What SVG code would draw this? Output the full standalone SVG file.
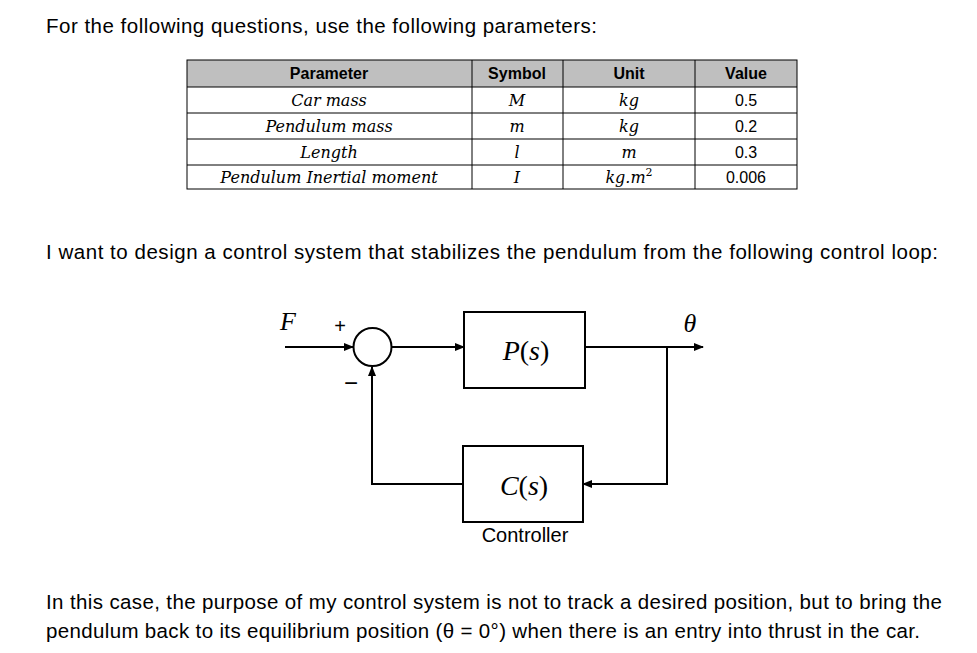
<svg xmlns="http://www.w3.org/2000/svg" width="977" height="653" viewBox="0 0 977 653">
<defs>
<style>
.t{font-family:"Liberation Sans",Arial,sans-serif;font-size:20.5px;fill:#000}
.h{font-family:"Liberation Sans",Arial,sans-serif;font-size:16px;font-weight:bold;text-anchor:middle}
.v{font-family:"Liberation Sans",Arial,sans-serif;font-size:16px;text-anchor:middle}
.m{font-family:"DejaVu Serif","Liberation Serif",serif;font-size:16px;font-style:italic;text-anchor:middle}
.b{fill:#fff;stroke:#000;stroke-width:2}
.w{fill:none;stroke:#000;stroke-width:2}
.bl{font-family:"Liberation Serif","Times New Roman",serif;font-size:28px;text-anchor:middle}
</style>
<marker id="ar" markerWidth="10" markerHeight="8" refX="9" refY="4" orient="auto" markerUnits="userSpaceOnUse"><path d="M0,0 L10,4 L0,8 z" fill="#000"/></marker>
</defs>
<rect width="977" height="653" fill="#fff"/>
<text class="t" x="46" y="33" textLength="551">For the following questions, use the following parameters:</text>
<g id="table">
<rect x="187" y="60" width="610" height="27" fill="#bfbfbf"/>
<g stroke="#000" stroke-width="1" fill="none">
<rect x="187" y="60" width="610" height="129"/>
<path d="M187 87H797M187 113H797M187 139H797M187 165H797M472 60V189M563 60V189M695 60V189"/>
</g>
<text class="h" x="329" y="79">Parameter</text><text class="h" x="517" y="79">Symbol</text><text class="h" x="629" y="79">Unit</text><text class="h" x="746" y="79">Value</text>
<text class="m" x="329" y="106">Car mass</text><text class="m" x="517" y="106">M</text><text class="m" x="629" y="106">kg</text><text class="v" x="746" y="106">0.5</text>
<text class="m" x="329" y="132">Pendulum mass</text><text class="m" x="517" y="132">m</text><text class="m" x="629" y="132">kg</text><text class="v" x="746" y="132">0.2</text>
<text class="m" x="329" y="158">Length</text><text class="m" x="517" y="158">l</text><text class="m" x="629" y="158">m</text><text class="v" x="746" y="158">0.3</text>
<text class="m" x="329" y="183">Pendulum Inertial moment</text><text class="m" x="517" y="183">I</text><text class="m" x="629" y="183">kg.m<tspan dy="-7" style="font-size:11px;font-style:normal">2</tspan></text><text class="v" x="746" y="183">0.006</text>
</g>
<text class="t" x="46" y="259" textLength="892">I want to design a control system that stabilizes the pendulum from the following control loop:</text>
<g id="connectors">
<path class="w" d="M285 347H353" marker-end="url(#ar)"/>
<path class="w" d="M392 347H464" marker-end="url(#ar)"/>
<path class="w" d="M585 347H703" marker-end="url(#ar)"/>
<path class="w" d="M667 347V484H583" marker-end="url(#ar)"/>
<path class="w" d="M463 484H372V367" marker-end="url(#ar)"/>
</g>
<g id="sum"><circle class="b" cx="372.5" cy="347" r="19"/></g>
<g id="plant"><rect class="b" x="464" y="312" width="121" height="76"/><text class="bl" x="526" y="360"><tspan font-style="italic">P</tspan>(<tspan font-style="italic">s</tspan>)</text></g>
<g id="controller"><rect class="b" x="463" y="446" width="120" height="76"/><text class="bl" x="524" y="495"><tspan font-style="italic">C</tspan>(<tspan font-style="italic">s</tspan>)</text>
<text class="v" x="525" y="542" style="font-size:20px">Controller</text></g>
<text x="288" y="330" class="bl" style="font-style:italic;font-size:26px">F</text>
<text x="340" y="333" class="v" style="font-size:20px">+</text>
<text x="351" y="391" class="v" style="font-size:24px">−</text>
<text x="690" y="332" class="bl" style="font-style:italic;font-size:26px">θ</text>
<text class="t" x="46" y="609" textLength="896">In this case, the purpose of my control system is not to track a desired position, but to bring the</text>
<text class="t" x="46" y="638" textLength="874">pendulum back to its equilibrium position (θ = 0°) when there is an entry into thrust in the car.</text>
</svg>
